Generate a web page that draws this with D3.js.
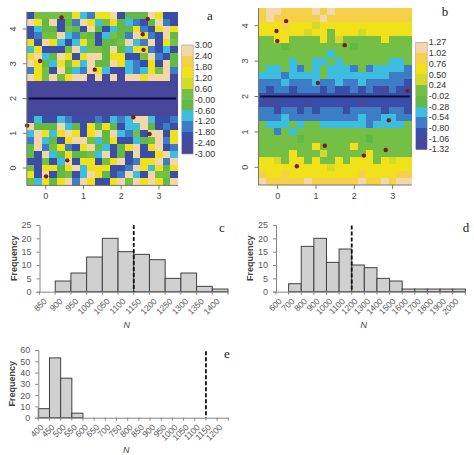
<!DOCTYPE html>
<html lang="en">
<head>
<meta charset="UTF-8">
<script src="https://d3js.org/d3.v7.min.js"></script>
<style>
  body { margin: 0; background: #fff; }
  svg text { font-family: "Liberation Sans", Arial, sans-serif; }
</style>
</head>
<body>
<div id="chart"></div>
<script>
// colour classes, lowest band first
const palette = ["#47489c", "#3a4ea8", "#3d7dc5", "#3dbde0", "#62b946",
                 "#74bf45", "#d5d92a", "#f1e11b", "#f5d149", "#f3d7a8"];

// panel a: colour class of every cell, top row (y = 4.4) first, 20 columns from x = -0.4
const cellsA = [
  [1,5,5,5,5,5,7,3,2,7,7,9,1,4,4,4,9,7,1,1],
  [9,7,4,9,1,4,2,9,7,3,5,7,4,3,2,1,4,9,2,1],
  [1,3,4,4,1,5,4,1,9,4,1,3,4,4,7,2,1,7,9,7],
  [1,2,5,5,9,3,2,5,4,1,3,5,4,2,9,7,2,1,9,4],
  [7,1,9,7,3,1,3,7,5,1,4,4,5,9,3,2,9,1,7,5],
  [3,7,1,1,1,5,9,3,5,5,4,9,4,3,7,7,2,1,3,1],
  [7,9,3,4,9,7,1,7,9,9,4,7,7,1,1,5,9,2,1,4],
  [9,7,4,3,7,5,7,3,9,4,4,9,7,3,2,1,7,1,9,4],
  [2,7,5,1,9,4,3,2,9,7,3,1,1,3,2,3,7,5,9,2],
  [9,7,5,9,5,7,9,9,0,9,0,9,0,9,9,7,9,9,9,0],
  [0,0,0,0,0,0,0,0,0,0,0,0,0,0,0,0,0,0,0,0],
  [0,0,0,0,0,0,0,0,0,0,0,0,0,0,0,0,0,0,0,0],
  [0,0,0,0,0,0,0,0,0,0,0,0,0,0,0,0,0,0,0,0],
  [0,0,0,0,0,0,0,0,0,0,0,0,0,0,0,0,0,0,0,0],
  [0,0,0,0,0,0,0,0,0,0,0,0,0,0,0,0,0,0,0,0],
  [1,3,1,1,3,2,1,1,1,2,1,3,2,3,9,9,3,1,1,2],
  [9,4,4,4,9,3,4,1,7,4,7,4,1,3,3,9,4,1,2,1],
  [3,9,7,3,7,9,7,1,7,9,4,9,3,2,5,1,9,9,1,7],
  [2,9,3,4,1,7,9,9,5,3,4,7,1,1,3,4,5,9,2,7],
  [4,9,2,5,7,2,1,7,9,4,3,1,4,7,9,1,7,9,1,2],
  [4,1,9,3,4,7,4,4,5,3,9,1,4,1,9,1,1,7,9,3],
  [1,1,5,1,3,9,1,7,7,1,5,7,9,1,2,7,7,9,2,9],
  [5,1,7,7,4,7,9,3,7,7,7,1,1,2,9,7,3,7,4,7],
  [7,1,9,1,4,5,1,3,9,7,4,1,2,9,3,1,9,5,5,1],
  [5,3,7,4,7,9,2,9,7,1,1,7,9,5,9,7,9,7,4,9]
];

// panel b: same layout
const cellsB = [
  [8,9,9,8,8,8,8,9,8,9,8,8,8,8,8,8,8,8,8,8],
  [8,9,8,8,8,8,8,8,9,8,8,8,8,8,8,8,8,8,8,8],
  [7,7,7,8,7,7,7,6,7,7,7,7,7,7,7,7,7,7,7,7],
  [7,7,7,7,7,7,6,7,7,5,7,7,7,6,7,7,7,7,7,7],
  [5,5,7,7,5,5,5,5,7,5,6,5,5,5,5,5,7,5,5,5],
  [5,5,5,4,5,5,5,5,5,5,5,5,4,5,5,5,5,5,5,5],
  [5,5,5,5,5,5,5,5,5,3,5,5,5,5,5,5,5,5,5,5],
  [5,5,5,5,3,5,5,3,3,5,3,5,5,5,5,5,5,3,3,5],
  [5,3,3,5,3,2,5,3,5,3,3,3,2,5,2,3,3,3,3,2],
  [3,3,3,2,3,3,3,3,5,3,3,3,3,3,3,3,3,2,2,2],
  [2,2,2,3,2,2,2,3,2,2,3,2,2,3,2,2,2,2,2,1],
  [2,1,2,2,1,2,2,2,1,2,1,1,2,1,2,1,0,2,1,1],
  [1,1,1,1,1,1,1,1,1,1,1,1,1,1,1,1,1,1,1,1],
  [1,0,1,1,1,1,0,1,1,1,1,1,1,0,1,1,1,1,1,1],
  [2,2,1,2,2,1,2,1,2,2,2,1,2,2,2,2,1,2,2,1],
  [2,2,2,3,2,2,2,2,2,2,2,2,2,3,2,2,3,3,2,2],
  [5,3,3,3,5,3,5,5,3,3,3,3,3,3,2,3,3,3,3,5],
  [5,5,2,5,3,5,5,5,5,5,5,5,5,5,5,5,5,5,5,5],
  [5,5,5,5,5,4,5,5,5,5,5,5,5,5,4,5,5,5,5,5],
  [5,5,5,5,5,5,5,7,5,5,5,5,7,5,5,5,5,5,5,5],
  [5,5,5,5,7,5,5,5,6,5,5,5,5,5,7,5,5,5,5,5],
  [7,7,6,5,7,7,5,7,5,5,7,5,7,7,7,5,7,6,7,7],
  [7,7,7,7,7,7,7,7,7,6,7,7,7,7,7,7,7,7,7,7],
  [8,7,7,8,7,7,7,7,7,7,7,7,7,8,7,7,7,7,8,8],
  [9,8,8,8,8,8,9,8,8,8,8,8,8,9,8,8,9,8,9,9]
];

const legendA = ["3.00", "2.40", "1.80", "1.20", "0.60", "-0.00", "-0.60", "-1.20", "-1.80", "-2.40", "-3.00"];
const legendB = ["1.27", "1.02", "0.76", "0.50", "0.24", "-0.02", "-0.28", "-0.54", "-0.80", "-1.06", "-1.32"];

const dotsA = [[0.42,4.33],[2.70,4.29],[2.57,3.85],[2.59,3.40],[-0.15,3.08],[1.30,2.83],
               [2.32,1.46],[-0.49,1.22],[2.75,0.98],[0.57,0.22],[0.01,-0.24]];
const dotsB = [[0.22,4.13],[-0.03,3.85],[-0.01,3.57],[1.75,3.45],[1.05,2.38],[3.39,2.16],
               [2.90,1.33],[1.23,0.61],[2.82,0.49],[2.25,0.33],[0.50,0.03]];

// histograms
const binsC = ["850","900","950","1000","1050","1100","1150","1200","1250","1300","1350","1400"];
const freqC = [0,4,7,13,20,15,14,12,5,7,2,1];
const binsD = ["600","700","800","900","1000","1100","1200","1300","1400","1500","1600","1700","1800","1900","2000"];
const freqD = [0,3,17,20,11,16,10,9,5,4,1,1,1,1,1];
const binsE = ["400","450","500","550","600","650","700","750","800","850","900","950","1000","1050","1100","1150","1200"];
const freqE = [8,53,35,4,0,0,0,0,0,0,0,0,0,0,0,0,0];

const svg = d3.select("#chart").append("svg")
  .attr("width", 474).attr("height", 455);

function drawHeat(cfg) {
  const x = d3.scaleLinear().domain([-0.5, 3.5]).range([cfg.left, cfg.right]);
  const y = d3.scaleLinear().domain([-0.5, 4.5]).range([cfg.bottom, cfg.top]);
  const col = d3.scaleBand().domain(d3.range(20)).range([cfg.left, cfg.right]);
  const row = d3.scaleBand().domain(d3.range(25)).range([cfg.top, cfg.bottom]);
  const lo = +cfg.labels[10], hi = +cfg.labels[0];
  const step = (hi - lo) / 10;
  const color = d3.scaleQuantize().domain([lo, hi]).range(palette);
  const g = svg.append("g");

  const cells = [];
  cfg.cells.forEach((r, i) => r.forEach((lv, j) => cells.push({ i, j, v: lo + (lv + 0.5) * step })));
  g.selectAll("rect.cell").data(cells).join("rect")
    .attr("x", d => col(d.j)).attr("y", d => row(d.i))
    .attr("width", col.bandwidth() + 0.4).attr("height", row.bandwidth() + 0.4)
    .attr("fill", d => color(d.v))
    .attr("shape-rendering", "crispEdges");

  // horizontal line at y = 2
  g.append("line")
    .attr("x1", x(-0.45)).attr("x2", x(3.45))
    .attr("y1", y(2)).attr("y2", y(2))
    .attr("stroke", "#0b0b3a").attr("stroke-width", 2);

  g.selectAll("circle").data(cfg.dots).join("circle")
    .attr("cx", d => x(d[0])).attr("cy", d => y(d[1])).attr("r", 2.2)
    .attr("fill", "#7a1c1c");

  // axes
  const ax = g.append("g").attr("stroke", "#777").attr("fill", "none");
  ax.append("line").attr("x1", cfg.left).attr("x2", cfg.left).attr("y1", cfg.top).attr("y2", cfg.bottom);
  ax.append("line").attr("x1", cfg.left).attr("x2", cfg.right).attr("y1", cfg.bottom).attr("y2", cfg.bottom);
  [0, 1, 2, 3, 4].forEach(t => {
    ax.append("line").attr("x1", cfg.left - 4).attr("x2", cfg.left).attr("y1", y(t)).attr("y2", y(t));
    g.append("text").attr("transform", `translate(${cfg.left - 11},${y(t)}) rotate(-90)`)
      .attr("text-anchor", "middle").attr("font-size", 9).attr("fill", "#444").text(t);
  });
  [0, 1, 2, 3].forEach(t => {
    ax.append("line").attr("x1", x(t)).attr("x2", x(t)).attr("y1", cfg.bottom).attr("y2", cfg.bottom + 4);
    g.append("text").attr("x", x(t)).attr("y", cfg.bottom + 14)
      .attr("text-anchor", "middle").attr("font-size", 9).attr("fill", "#444").text(t);
  });

  // legend
  const ly = d3.scaleLinear().domain([0, 10]).range([cfg.legTop, cfg.legBottom]);
  const lg = g.append("g");
  d3.range(10).forEach(k => {
    lg.append("rect").attr("x", cfg.legX).attr("y", ly(k)).attr("width", 11.5)
      .attr("height", ly(k + 1) - ly(k) + 0.3).attr("fill", palette[9 - k])
      .attr("shape-rendering", "crispEdges");
  });
  lg.append("rect").attr("x", cfg.legX).attr("y", ly(0)).attr("width", 11.5)
    .attr("height", ly(10) - ly(0)).attr("fill", "none").attr("stroke", "#999").attr("stroke-width", 0.6);
  lg.selectAll("text").data(cfg.labels).join("text")
    .attr("x", cfg.legX + 13).attr("y", (d, k) => ly(k)).attr("dy", "0.35em")
    .attr("font-size", 9).attr("fill", "#333").text(d => d);

  g.append("text").attr("x", cfg.letter[0]).attr("y", cfg.letter[1])
    .attr("text-anchor", "middle").attr("font-size", 13)
    .style("font-family", "'Liberation Serif', serif").attr("fill", "#222").text(cfg.name);
}

drawHeat({ cells: cellsA, dots: dotsA, labels: legendA, name: "a",
  left: 26.8, right: 177.9, top: 11.6, bottom: 185.4,
  legX: 181.7, legTop: 45, legBottom: 154, letter: [210, 20] });
drawHeat({ cells: cellsB, dots: dotsB, labels: legendB, name: "b",
  left: 258.5, right: 411.8, top: 8, bottom: 185,
  legX: 415.7, legTop: 42.3, legBottom: 149.3, letter: [445, 16] });

function drawHist(cfg) {
  const g = svg.append("g");
  const x = d3.scaleBand().domain(cfg.bins).range([cfg.x0, cfg.x1]);
  const y = d3.scaleLinear().domain([0, cfg.yMax]).range([cfg.y0, cfg.yTop]);
  const bw = x.bandwidth();
  const centre = d3.scaleLinear()
    .domain([+cfg.bins[0], +cfg.bins[cfg.bins.length - 1]])
    .range([x(cfg.bins[0]) + bw / 2, x(cfg.bins[cfg.bins.length - 1]) + bw / 2]);

  const data = cfg.bins.map((b, i) => ({ b, f: cfg.freq[i] })).filter(d => d.f > 0);
  g.selectAll("rect").data(data).join("rect")
    .attr("x", d => x(d.b)).attr("y", d => y(d.f))
    .attr("width", bw).attr("height", d => cfg.y0 - y(d.f))
    .attr("fill", "#d0d0d0").attr("stroke", "#404040").attr("stroke-width", 1);

  // y axis
  const ya = g.append("g").attr("transform", `translate(${cfg.x0},0)`)
    .call(d3.axisLeft(y).tickValues(d3.range(0, cfg.yMax + 1, cfg.yStep)).tickSize(3).tickPadding(5));
  ya.select(".domain").attr("stroke", "#868686");
  ya.selectAll(".tick line").attr("stroke", "#868686");
  ya.selectAll("text").attr("font-size", 9).attr("fill", "#595959")
    .style("font-family", "'Liberation Sans', Arial, sans-serif");

  // x axis
  const xa = g.append("g").attr("transform", `translate(0,${cfg.y0})`)
    .call(d3.axisBottom(x).tickSize(0));
  xa.select(".domain").attr("stroke", "#868686");
  xa.selectAll("text")
    .attr("y", 0).attr("dy", "0.35em")
    .attr("transform", "translate(-2,8) rotate(-45)")
    .style("text-anchor", "end")
    .attr("font-size", 8.5).attr("fill", "#595959")
    .style("font-family", "'Liberation Sans', Arial, sans-serif");
  cfg.bins.concat([null]).forEach((b, i) => {
    const px = b === null ? cfg.x1 : x(b);
    g.append("line").attr("x1", px).attr("x2", px).attr("y1", cfg.y0).attr("y2", cfg.y0 + 3)
      .attr("stroke", "#868686");
  });

  // reference value
  g.append("line")
    .attr("x1", centre(cfg.ref)).attr("x2", centre(cfg.ref))
    .attr("y1", y(cfg.refTop)).attr("y2", cfg.y0)
    .attr("stroke", "#111").attr("stroke-width", 1.8).attr("stroke-dasharray", "4,2");

  g.append("text").attr("transform", `translate(${cfg.x0 - 23},${(cfg.y0 + cfg.yTop) / 2}) rotate(-90)`)
    .attr("text-anchor", "middle").attr("font-size", 9).attr("font-weight", "bold")
    .attr("fill", "#404040").text("Frequency");

  g.append("text").attr("x", (cfg.x0 + cfg.x1) / 2 - 7).attr("y", cfg.nY)
    .attr("text-anchor", "middle").attr("font-size", 9).attr("font-style", "italic")
    .attr("fill", "#404040").text("N");

  g.append("text").attr("x", cfg.letter[0]).attr("y", cfg.letter[1])
    .attr("text-anchor", "middle").attr("font-size", 13)
    .style("font-family", "'Liberation Serif', serif").attr("fill", "#222").text(cfg.name);
}

drawHist({ bins: binsC, freq: freqC, name: "c", ref: 1125, refTop: 25, yMax: 25, yStep: 5,
  x0: 39.5, x1: 228, y0: 291.7, yTop: 225, nY: 328, letter: [222, 232] });
drawHist({ bins: binsD, freq: freqD, name: "d", ref: 1150, refTop: 24.8, yMax: 25, yStep: 5,
  x0: 276, x1: 465.3, y0: 291.7, yTop: 225, nY: 328, letter: [466, 232] });
drawHist({ bins: binsE, freq: freqE, name: "e", ref: 1125, refTop: 59, yMax: 60, yStep: 10,
  x0: 38.3, x1: 228.3, y0: 417.7, yTop: 350, nY: 453, letter: [227, 358] });
</script>
</body>
</html>
